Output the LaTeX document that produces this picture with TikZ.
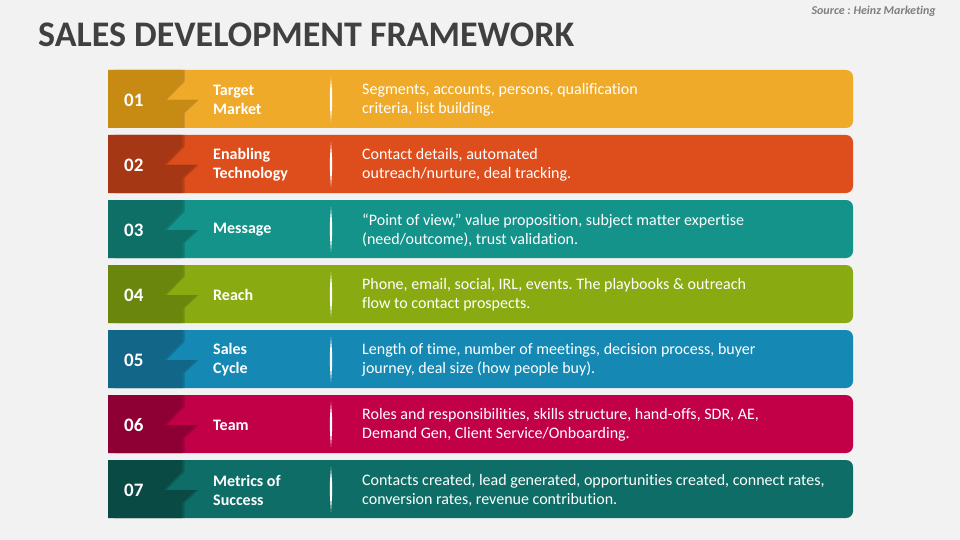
\documentclass[tikz,border=0pt]{standalone}
\usepackage{fontspec}
\setmainfont{Carlito}[Ligatures=NoCommon]
\usepackage{tikz}
\frenchspacing

\definecolor{bg}{HTML}{F2F2F2}
\definecolor{titlegray}{HTML}{404040}
\definecolor{sourcegray}{HTML}{7F7F7F}
\definecolor{bar1}{HTML}{F0AA2A}
\definecolor{dark1}{HTML}{C78A12}
\definecolor{bar2}{HTML}{DE4E1C}
\definecolor{dark2}{HTML}{A63714}
\definecolor{bar3}{HTML}{13938A}
\definecolor{dark3}{HTML}{0E6F67}
\definecolor{bar4}{HTML}{8AAA12}
\definecolor{dark4}{HTML}{6A860C}
\definecolor{bar5}{HTML}{1589B3}
\definecolor{dark5}{HTML}{126788}
\definecolor{bar6}{HTML}{C10048}
\definecolor{dark6}{HTML}{8E0034}
\definecolor{bar7}{HTML}{0E6E67}
\definecolor{dark7}{HTML}{0A4A45}

\begin{document}
\begin{tikzpicture}[x=1pt,y=-1pt,
    numtext/.style={anchor=west, inner sep=0pt, text=white, font=\bfseries\fontsize{19}{21}\selectfont},
    labtext/.style={anchor=west, inner sep=0pt, align=left, text=white, font=\bfseries\fontsize{16}{19}\selectfont},
    desctext/.style={anchor=west, inner sep=0pt, align=left, text=white, font=\fontsize{16}{19}\selectfont}]

    % Background
    \fill[bg] (0,0) rectangle (960,540);

    % Title and source
    \node[anchor=base west, inner sep=0pt, text=titlegray, font=\bfseries\fontsize{36}{42}\selectfont] (title) at (38,46.5) {SALES DEVELOPMENT FRAMEWORK};
    \node[anchor=base east, inner sep=0pt, text=sourcegray, font=\bfseries\itshape\fontsize{12}{14}\selectfont] (source) at (936,15) {Source : Heinz Marketing};

    % Rows
    \foreach \i/\lab/\desc in {
        1/{Target\\Market}/{Segments, accounts, persons, qualification\\criteria, list building.},
        2/{Enabling\\Technology}/{Contact details, automated\\outreach/nurture, deal tracking.},
        3/{Message}/{“Point of view,” value proposition, subject matter expertise\\(need/outcome), trust validation.},
        4/{Reach}/{Phone, email, social, IRL, events. The playbooks \& outreach\\flow to contact prospects.},
        5/{Sales\\Cycle}/{Length of time, number of meetings, decision process, buyer\\journey, deal size (how people buy).},
        6/{Team}/{Roles and responsibilities, skills structure, hand-offs, SDR, AE,\\Demand Gen, Client Service/Onboarding.},
        7/{Metrics of\\Success}/{Contacts created, lead generated, opportunities created, connect rates,\\conversion rates, revenue contribution.}}
    {
        \pgfmathsetmacro\t{70+65*(\i-1)}
        % bar
        \fill[bar\i, rounded corners=7] (108,\t) rectangle (853,\t+58);
        % shadow and dark tab
        \fill[black, opacity=0.18] (110,\t) -- (184.5,\t) -- (184.5,\t+11.5) -- (166.5,\t+30) -- (198.5,\t+30)
            -- (184.5,\t+43) -- (184.5,\t+58) -- (110,\t+58) -- cycle;
        \fill[dark\i] (108,\t) -- (182,\t) -- (182,\t+11.5) -- (164,\t+30) -- (196,\t+30)
            -- (182,\t+43) -- (182,\t+58) -- (108,\t+58) -- cycle;
        % divider
        \fill[white] (331,\t+7) .. controls (332.6,\t+29) .. (331,\t+52) .. controls (329.4,\t+29) .. (331,\t+7);
        % texts
        \node[numtext] (num\i) at (124,\t+30) {0\i};
        \node[labtext] (lab\i) at (213,\t+30) {\lab};
        \node[desctext] (desc\i) at (362,\t+30) {\desc};
    }
\end{tikzpicture}
\end{document}
